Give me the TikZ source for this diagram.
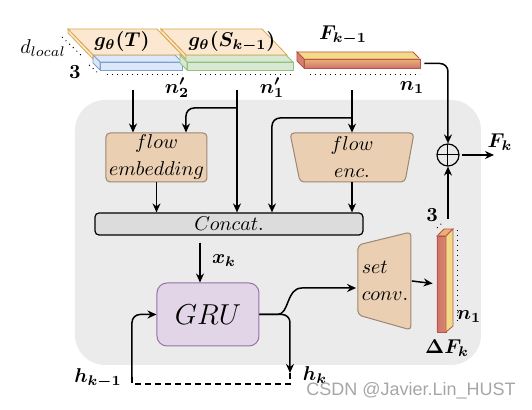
\documentclass[tikz,border=0pt]{standalone}
\usepackage{bm}
\usepackage{fontspec}
\usetikzlibrary{arrows.meta,calc}
\newfontfamily\wmfont{Liberation Sans}
\definecolor{bgc}{HTML}{EBEBEB}
\definecolor{tanf}{HTML}{EACFB2}
\definecolor{tand}{HTML}{9C8672}
\definecolor{gruf}{HTML}{E1D5E7}
\definecolor{grud}{HTML}{9673A6}
\definecolor{catf}{HTML}{DCDCDC}
\definecolor{orf}{HTML}{FBE2C5}
\definecolor{ord}{HTML}{D9A94E}
\definecolor{bluef}{HTML}{DCE8FA}
\definecolor{blued}{HTML}{7F9FCC}
\definecolor{grnf}{HTML}{D7E8D3}
\definecolor{grnd}{HTML}{95C07F}
\definecolor{redd}{HTML}{B85450}
\definecolor{yel}{HTML}{F3DA86}
\definecolor{redf}{HTML}{D0736A}
\definecolor{orm}{HTML}{E8B476}
\tikzset{
  arr/.style={-{Stealth[length=4.5pt,width=4pt]}, line width=0.75pt},
  conn/.style={line width=0.75pt},
  tanshape/.style={draw=tand, fill=tanf, line width=0.5pt, rounded corners=2pt},
  txt/.style={font=\fontsize{10}{13.5}\selectfont, align=center, inner sep=0},
  lbl/.style={inner sep=0, font=\fontsize{10}{12}\selectfont},
  dots/.style={dotted, line width=0.5pt},
  barline/.style={draw=redd, line width=0.4pt},
}
\begin{document}
\begin{tikzpicture}[x=0.5pt,y=-0.5pt]
\useasboundingbox (0,0) rectangle (532,410);
% background panel
\fill[bgc, rounded corners=15pt] (75,100) rectangle (481,365);

% ---- tensor g(T)
\filldraw[fill=bluef, draw=blued, line width=0.4pt] (93,55) -- (175,55) -- (182,62) -- (100,62) -- cycle;
\filldraw[fill=bluef, draw=blued, line width=0.4pt] (100,62) rectangle (182,70);
\filldraw[fill=bluef, draw=blued, line width=0.4pt] (93,55) -- (100,62) -- (100,70) -- (93,63) -- cycle;
\filldraw[fill=orf, fill opacity=0.8, draw=ord, line width=0.4pt] (68,29) -- (157,29) -- (182,55) -- (93,55) -- cycle;
\filldraw[fill=orf, fill opacity=0.8, draw=ord, line width=0.4pt] (68,29) -- (93,55) -- (93,59) -- (68,33) -- cycle;
% ---- tensor g(S)
\filldraw[fill=grnf, draw=grnd, line width=0.4pt] (180,55) -- (286,55) -- (293,62) -- (187,62) -- cycle;
\filldraw[fill=grnf, draw=grnd, line width=0.4pt] (187,62) rectangle (293,70);
\filldraw[fill=grnf, draw=grnd, line width=0.4pt] (180,55) -- (187,62) -- (187,70) -- (180,63) -- cycle;
\filldraw[fill=orf, fill opacity=0.8, draw=ord, line width=0.4pt] (161,29) -- (262,29) -- (287,55) -- (186,55) -- cycle;
\filldraw[fill=orf, fill opacity=0.8, draw=ord, line width=0.4pt] (161,29) -- (186,55) -- (186,59) -- (161,33) -- cycle;

\node[lbl] (gT) at (122,42) {$\bm{g_\theta(T)}$};
\node[lbl] (gS) at (232,42) {$\bm{g_\theta(S_{k-1})}$};
\node[lbl] (dl) at (43,48) {$d_{local}$};
\node[lbl] (three1) at (75,72) {$\bm{3}$};
\node[lbl] (np2) at (177,88) {$\bm{n'_2}$};
\node[lbl] (np1) at (272,88) {$\bm{n'_1}$};
\draw[dots] (62,37) -- (82,56);
\draw[dots] (89,65) -- (97,72);
\draw[dots] (107,75) -- (182,75);
\draw[dots] (200,75) -- (293,75);

% ---- F_{k-1} bar
\filldraw[fill=yel, barline] (297,52) -- (413,52) -- (420,59) -- (304,59) -- cycle;
\shade[top color=orm, bottom color=redf] (304,59) rectangle (420,68);
\draw[barline] (304,59) rectangle (420,68);
\filldraw[fill=redf!85!yel, barline] (297,52) -- (304,59) -- (304,68) -- (297,61) -- cycle;
\node[inner sep=0, minimum width=58pt, minimum height=4.5pt] (Fprev) at (362,63.5) {};
\node[lbl] (Fkm1) at (343,35) {$\bm{F_{k-1}}$};
\node[lbl] (n1a) at (412,88) {$\bm{n_1}$};
\draw[dots] (310,75) -- (420,75);

% ---- processing nodes
\node[tanshape, txt, minimum width=50.5pt, minimum height=24.5pt] (emb) at (156.5,157.5) {$flow$\\$embedding$};
\filldraw[tanshape] (290,133) -- (414,133) -- (405,182) -- (300,182) -- cycle;
\node[txt, minimum width=62pt, minimum height=24.5pt] (enc) at (352,157.5) {$flow$\\$enc.$};
\node[draw, fill=catf, rounded corners=2pt, minimum width=134pt, minimum height=11pt, inner sep=0, line width=0.6pt, font=\fontsize{10}{12}\selectfont] (concat) at (229,224) {$Concat.$};
\node[draw=grud, fill=gruf, line width=0.5pt, rounded corners=5pt, minimum width=51pt, minimum height=31.5pt, inner sep=0, font=\fontsize{13.5}{16}\selectfont] (gru) at (208,314.5) {$GRU$};
\filldraw[tanshape] (358,245) -- (411,232) -- (411,330) -- (358,315) -- cycle;
\node[txt, align=left, minimum width=26.5pt, minimum height=49pt] (setc) at (385,281) {$set$\\$conv.$};

% ---- Delta F_k bar
\filldraw[fill=orm, barline] (437,236) -- (444,229) -- (453,229) -- (446,236) -- cycle;
\shade[left color=redf, right color=redf!70!orm] (437,236) rectangle (446,332);
\draw[barline] (437,236) rectangle (446,332);
\filldraw[fill=yel, barline] (446,236) -- (453,229) -- (453,326) -- (446,332) -- cycle;
\node[inner sep=0, minimum width=4.5pt, minimum height=48pt] (dF) at (441.5,284) {};
\node[lbl] (three2) at (432,215) {$\bm{3}$};
\node[lbl] (n1b) at (469,317) {$\bm{n_1}$};
\node[lbl] (dFl) at (447,348) {$\bm{\Delta F_k}$};
\draw[dots] (458,230) -- (458,323);
\draw[dots] (437,228) -- (443,222);

% ---- oplus
\node[draw, circle, minimum size=11pt, inner sep=0, line width=0.6pt,
  path picture={\draw[line width=0.5pt] (path picture bounding box.north) -- (path picture bounding box.south) (path picture bounding box.west) -- (path picture bounding box.east);}] (plus) at (448,155) {};
\node[lbl] (Fk) at (500,142) {$\bm{F_k}$};
\coordinate (Fkend) at (494,155);
\coordinate (dFtop) at (448,219);

% ---- coordinates
\coordinate (t1) at (133,90);
\coordinate (t2) at (237,90);
\coordinate (t3) at (352,90);
\coordinate (b1) at (237,108);
\coordinate (b2) at (352,118);
\coordinate (x186) at (186,0);
\coordinate (x272) at (272,0);
\coordinate (x200) at (200,0);
\coordinate (y288) at (0,288);
\coordinate (hin) at (132,377);
\coordinate (hout) at (290,373);

% ---- connectors
\draw[arr] (t1) -- (t1 |- emb.north);
\draw[arr] (t2) -- (t2 |- concat.north);
\draw[arr, rounded corners=4pt] (b1) -| (emb.north -| x186);
\draw[arr] (t3) -- (enc.north);
\draw[arr, rounded corners=4pt] (b2) -| (concat.north -| x272);
\draw[arr] (emb.south) -- (emb.south |- concat.north);
\draw[arr] (enc.south) -- (enc.south |- concat.north);
\draw[arr, shorten <=3.5pt] (concat.south -| x200) -- (gru.north -| x200);
\node[lbl] (xk) at (224,261) {$\bm{x_k}$};
\draw[arr, rounded corners=4pt] (hin) |- (gru.west);
\draw[arr, rounded corners=4pt] (gru.east) -| (hout);
\draw[arr] (gru.east) -- ++(18,0) .. controls +(12,0) and +(-16,0) .. (302,288) -- ([xshift=-1pt]setc.west |- y288);
\draw[conn, dashed, dash pattern=on 3pt off 2pt] (hin) -- ++(0,7) -| (hout);
\node[lbl] (hkm1) at (98,378) {$\bm{h_{k-1}}$};
\node[lbl] (hk) at (315,375) {$\bm{h_k}$};
\draw[arr, shorten >=2pt] (setc.east) -- (dF.west);
\draw[arr, rounded corners=4pt, shorten <=2pt] (Fprev.east) -| (plus.north);
\draw[arr] (dFtop) -- (plus.south);
\draw[arr, shorten <=1pt] (plus.east) -- (Fkend);

\node[font=\wmfont\fontsize{9}{10}\selectfont, text=gray!70, inner sep=0] (wm) at (411,391) {CSDN @Javier.Lin\_HUST};
\end{tikzpicture}
\end{document}
